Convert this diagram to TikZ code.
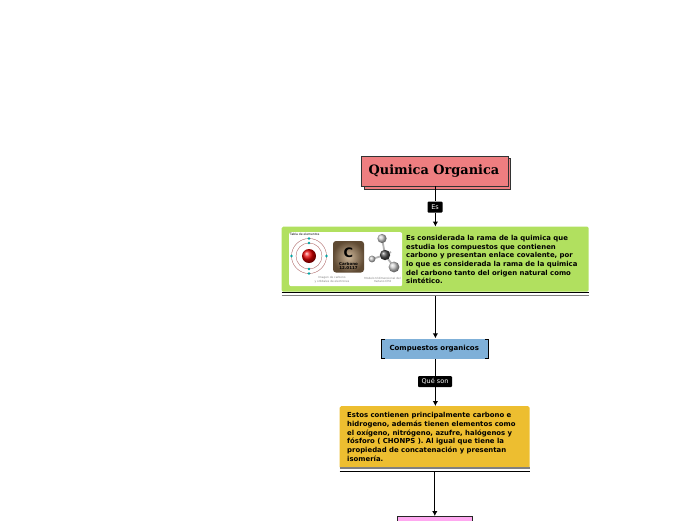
\documentclass[tikz,border=0pt]{standalone}
\usepackage{fontspec}
\setmainfont{DejaVu Sans}
\newfontfamily\titlefont{DejaVu Serif}
\usetikzlibrary{arrows.meta,positioning}
\tikzset{
 x=1pt,y=-1pt,
 lbl/.style={fill=black,text=white,rounded corners=1pt,font=\fontsize{6.5}{7}\selectfont,inner sep=0pt,minimum height=11pt},
 body/.style={font=\fontsize{6.9}{8.65}\selectfont\bfseries,align=left,anchor=north west,inner sep=0pt},
 link/.style={draw=black,line width=1.2pt,-{Latex[length=5pt,width=5.5pt]}},
 plain/.style={draw=black,line width=1.2pt},
}
\definecolor{titlered}{HTML}{EE7E80}
\definecolor{leaf}{HTML}{B1E05F}
\definecolor{sky}{HTML}{7FB0D8}
\definecolor{gold}{HTML}{EDBE30}
\definecolor{pinkb}{HTML}{FFA8F0}
\definecolor{tan}{HTML}{CDB79A}
\definecolor{tandark}{HTML}{5F4A33}
\begin{document}
\begin{tikzpicture}
\useasboundingbox (0,0) rectangle (696,520);
% title
\fill[titlered,draw=black!80,line width=.7pt] (364,158.5) rectangle (510,189);
\node[draw=black!80,line width=.8pt,fill=titlered,minimum width=147pt,minimum height=30pt,inner sep=0pt] (title) at (434.5,171) {\titlefont\bfseries\fontsize{12.9}{15}\selectfont\hspace*{-1pt}Quimica Organica};
% green box
\node[fill=leaf,rounded corners=1.5pt,minimum width=307pt,minimum height=65pt,inner sep=0pt,anchor=north west] (green) at (281.5,226.5) {};
\draw[black,line width=1pt] (281.5,292) -- (589,292);
\draw[gray,line width=1.6pt] (281.5,295.5) -- (589,295.5);
\node[fill=white,rounded corners=2pt,minimum width=113pt,minimum height=54pt,inner sep=0pt,anchor=north west] (photo) at (289,232) {};
\node[body] (gtext) at (406,235) {Es considerada la rama de la quimica que\\estudia los compuestos que contienen\\carbono y presentan enlace covalente, por\\lo que es considerada la rama de la quimica\\del carbono tanto del origen natural como\\sintético.};
% atom
\draw[gray!70!red,line width=.35pt] (309,256) circle (17.5) (309,256) circle (13);
\shade[ball color=red!90!black] (309,256) circle (7);
\foreach \a/\b in {309/238.5,309/243,309/269,309/273.5,291.5/256,326.5/256}{\fill[teal!70!cyan] (\a,\b) circle (1.3);}
\node[font=\fontsize{3}{3}\selectfont,anchor=west,inner sep=0pt] (atomcap) at (290,234) {Tabla de elementos};
\node[font=\fontsize{2.8}{3.5}\selectfont,align=center,text=gray,inner sep=0pt] (atomnote) at (332,279.5) {Imagen de carbono\\y orbitales de electrones};
% tile
\shade[rounded corners=3pt,inner color=tan,outer color=tandark] (333,241) rectangle (364,272.5);
\node[font=\fontsize{13}{13}\selectfont\bfseries,inner sep=0pt] (csym) at (348.5,253) {C};
\node[font=\fontsize{4}{4.6}\selectfont\bfseries,align=center,inner sep=0pt] (cname) at (348.5,266) {Carbono\\12.0117};
% molecule
\draw[gray!60,line width=1.8pt] (385,255) -- (382,238) (385,255) -- (372,259) (385,255) -- (394,267) (385,255) -- (391,252);
\shade[ball color=gray!40] (382,238.5) circle (4.6);
\shade[ball color=gray!40] (372,259) circle (3.4);
\shade[ball color=gray!40] (394,267) circle (5.4);
\shade[ball color=black!70] (385,255) circle (5.2);
\node[font=\fontsize{2.8}{3.5}\selectfont,align=center,text=gray,inner sep=0pt] (molnote) at (382.5,280) {Modelo tridimensional del\\metano CH4};
% blue box
\node[fill=sky,minimum width=107pt,minimum height=20pt,inner sep=0pt,font=\fontsize{7}{8}\selectfont\bfseries] (blue) at (435,348.5) {\raisebox{-1.2pt}{\hspace*{-1.5pt}Compuestos organicos}};
\draw[black,line width=.9pt] (385,339) -- (381.8,339) -- (381.8,358.5) -- (385,358.5) (485,339) -- (488.7,339) -- (488.7,358.5) -- (485,358.5);
% gold box
\node[fill=gold,rounded corners=1.5pt,minimum width=190pt,minimum height=62pt,inner sep=0pt,anchor=north west] (gold) at (339.5,406) {};
\node[body] (ytext) at (347,412.3) {Estos contienen principalmente carbono e\\hidrogeno, además tienen elementos como\\el oxígeno, nitrógeno, azufre, halógenos y\\fósforo ( CHONPS ). Al igual que tiene la\\propiedad de concatenación y presentan\\isomería.};
\draw[gray,line width=1.4pt] (339.5,468) -- (529.5,468);
\draw[black,line width=.9pt] (339.5,471) -- (529.5,471);
% pink box
\node[draw=black!85,line width=.9pt,fill=pinkb,minimum width=75pt,minimum height=12pt,inner sep=0pt,anchor=north west] (pink) at (397,516) {};
% connectors
\coordinate (g1) at (435.4,296);
\coordinate (y1) at (434.8,471);
\coordinate (b1) at (435.4,358.5);
\node[lbl,minimum width=15pt] (es) at (435,207) {Es};
\node[lbl,minimum width=34pt] (que) at (435,381.5) {Qué son};
\draw[plain] (g1 |- title.south) -- (g1 |- es.north);
\draw[link] (g1 |- es.south) -- (g1 |- green.north);
\draw[link] (g1) -- (g1 |- blue.north);
\draw[plain] (b1) -- (b1 |- que.north);
\draw[link] (b1 |- que.south) -- (b1 |- gold.north);
\draw[link] (y1) -- (y1 |- pink.north);
\end{tikzpicture}
\end{document}
